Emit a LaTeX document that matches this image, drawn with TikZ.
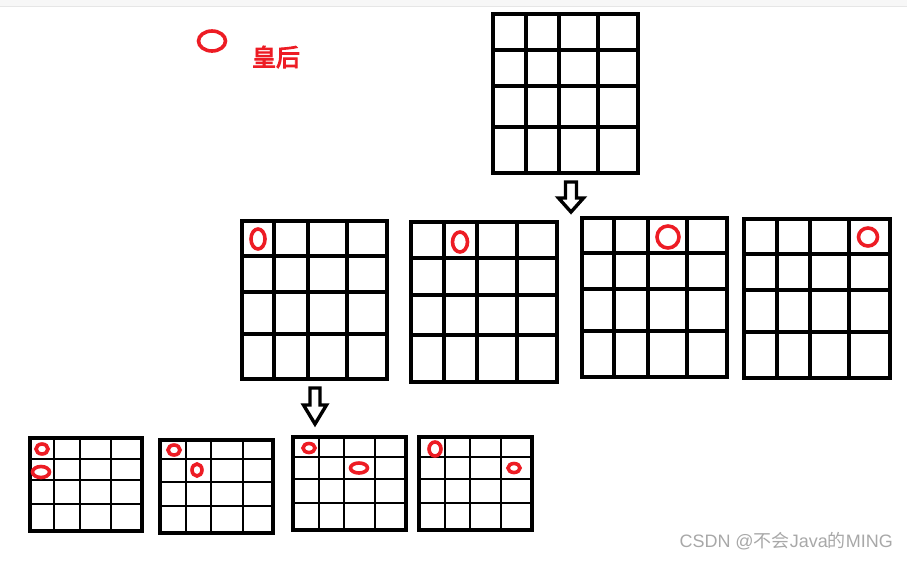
\documentclass[tikz,border=0pt]{standalone}
\usepackage{fontspec}
\usetikzlibrary{shapes.geometric}
\newfontfamily\cjkfont{Noto Sans CJK SC}
\newfontfamily\cjkbold[FakeBold=4]{Noto Sans CJK SC}
\newfontfamily\wmlatin{Liberation Sans}
\definecolor{qred}{HTML}{ED1C24}
\definecolor{wmgray}{HTML}{A8A8A8}
\definecolor{topbar}{HTML}{F7F7F7}
\definecolor{barline}{HTML}{E6E6E6}
\newcommand\qgrid[7]{%
  \node[gridbox, minimum width={#4-#2}, minimum height={#5-#3}] (#1) at ({(#2+#4)/2},{(#3+#5)/2}) {};
  \foreach \v in {#6} \draw[gridline] (\v,#3) -- (\v,#5);
  \foreach \h in {#7} \draw[gridline] (#2,\h) -- (#4,\h);
}
\begin{document}
\begin{tikzpicture}[x=1pt,y=-1pt,
  gridline/.style={line width=3.2pt},
  gridbox/.style={draw, line width=4.2pt, inner sep=0pt, outer sep=0pt},
  queen/.style={draw=qred, line width=3.6pt, ellipse, inner sep=0pt},
  blockarrow/.style={draw, fill=white, line width=3.4pt, line join=miter},
]
\useasboundingbox (0,0) rectangle (907,560);
\fill[topbar] (0,0) rectangle (907,6);
\draw[barline, line width=1pt] (0,6) -- (907,6);

% legend
\node[queen, minimum width=27, minimum height=20] (legend) at (212,41) {};
\node[text=qred, font=\cjkbold\fontsize{24}{24}\selectfont] (label) at (276,57) {皇后};

% top grid
\qgrid{g0}{493}{14}{638}{173}{526,559,598}{50,86,127}

% arrow 1
\draw[blockarrow] (565.5,182) -- (576.5,182) -- (576.5,198) -- (583.5,198) -- (571,212) -- (558.5,198) -- (565.5,198) -- cycle;

% second row
\qgrid{ga}{242}{221}{387}{379}{274,308,347}{256,292,334}
\qgrid{gb}{411}{222}{557}{382}{444,477,517}{258,295,335}
\qgrid{gc}{582}{218}{727}{377}{614,648,687}{253,289,331}
\qgrid{gd}{744}{219}{890}{378}{777,810,849}{254,290,332}
\node[queen, minimum width=14, minimum height=20] (qa) at (258,239) {};
\node[queen, minimum width=15, minimum height=20] (qb) at (460,242) {};
\node[queen, minimum width=22, minimum height=22] (qc) at (668,237) {};
\node[queen, minimum width=19, minimum height=18] (qd) at (868,237) {};

% arrow 2
\draw[blockarrow] (310,388) -- (320,388) -- (320,405) -- (326.5,405) -- (315,424) -- (303.5,405) -- (310,405) -- cycle;

% third row
\begin{scope}[gridline/.style={line width=2.6pt}, gridbox/.style={draw, line width=3.6pt, inner sep=0pt, outer sep=0pt}]
\qgrid{ge}{30}{438}{142}{531}{54,80,111}{459,480,504}
\qgrid{gf}{160}{440}{273}{533}{186,211,243}{459,482,506}
\qgrid{gg}{293}{437}{406}{530}{319,344,375}{457,479,503}
\qgrid{gh}{419}{437}{532}{530}{445,470,501}{457,479,503}
\end{scope}
\node[queen, minimum width=12, minimum height=10] (qe1) at (42,449) {};
\node[queen, minimum width=17, minimum height=11] (qe2) at (41,472) {};
\node[queen, minimum width=12, minimum height=10] (qf1) at (174,450) {};
\node[queen, minimum width=10, minimum height=12] (qf2) at (197,470) {};
\node[queen, minimum width=12, minimum height=9] (qg1) at (309,448) {};
\node[queen, minimum width=17, minimum height=10] (qg2) at (359,468) {};
\node[queen, minimum width=12, minimum height=14] (qh1) at (435,449) {};
\node[queen, minimum width=12, minimum height=9] (qh2) at (514,468) {};

% watermark
\node[text=wmgray, font=\fontsize{18}{18}\selectfont, anchor=east, inner sep=0pt] (wm) at (893,541) {\wmlatin CSDN @\cjkfont 不会\wmlatin Java\cjkfont 的\wmlatin MING};
\end{tikzpicture}
\end{document}
